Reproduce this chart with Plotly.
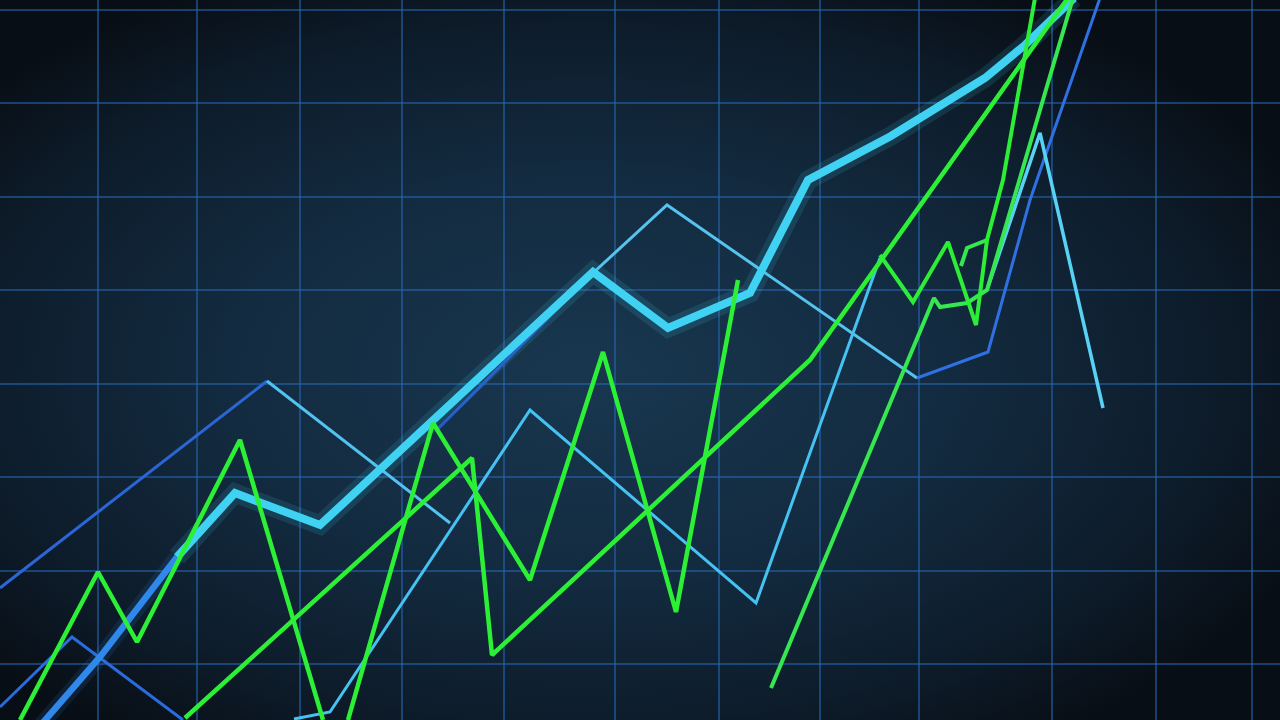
import base64
import plotly.graph_objects as go

# ---- grid (axis tick positions) ----
x_grid = [98, 197, 300, 402, 504, 615, 719, 820, 919, 1052, 1156, 1252]
y_grid = [56, 149, 243, 336, 430, 523, 617, 710]

# ---- series (x = time, y = value) ----
thick_low_x = [40, 100, 177]
thick_low_y = [-6, 63, 163]
thick_x = [177, 235, 320, 593, 668, 750, 808, 891, 985, 1025, 1074]
thick_y = [163, 227, 195, 448, 392, 427, 540, 584, 642, 675, 722]

a_left_x = [0, 267]
a_left_y = [132, 339]
a_right_x = [267, 450]
a_right_y = [339, 197]

b1_x = [437, 593]
b1_y = [290, 447]
b2_x = [593, 667, 917]
b2_y = [447, 515, 342]
b3_x = [917, 988, 1030, 1100]
b3_y = [342, 368, 520, 722]

c_x = [294, 330, 530, 756, 880]
c_y = [1, 8, 310, 117, 462]

d_x = [0, 72, 183]
d_y = [13, 83, 0]

e_x = [987, 1040, 1103]
e_y = [430, 587, 312]

g1_x = [20, 98, 137, 240, 323]
g1_y = [0, 148, 78, 280, 0]

g2_x = [185, 472, 492, 810, 1068]
g2_y = [2, 262, 65, 360, 722]

g3_x = [348, 433, 530, 603, 676, 738]
g3_y = [0, 297, 140, 368, 108, 440]

g4_x = [771, 934, 940, 967, 987, 1073]
g4_y = [32, 422, 413, 417, 430, 722]

g5_x = [880, 913, 948, 976, 987, 1003, 1035]
g5_y = [465, 418, 478, 395, 480, 540, 722]

g5b_x = [961, 967, 987]
g5b_y = [454, 472, 480]

# ---- background gradient ----
svg = """<svg xmlns='http://www.w3.org/2000/svg' width='1280' height='720' viewBox='0 0 1280 720' preserveAspectRatio='none'>
<defs><radialGradient id='g' cx='0.46' cy='0.52' r='0.62'>
<stop offset='0' stop-color='#18374f'/>
<stop offset='0.45' stop-color='#132b40'/>
<stop offset='0.8' stop-color='#0d1b29'/>
<stop offset='1' stop-color='#080e15'/>
</radialGradient></defs>
<rect width='1280' height='720' fill='url(#g)'/></svg>"""
bg_src = "data:image/svg+xml;base64," + base64.b64encode(svg.encode()).decode()

fig = go.Figure()


def add_line(x, y, color, width, glow=False):
    if glow:
        fig.add_trace(go.Scatter(x=x, y=y, mode="lines", hoverinfo="skip",
                                 line=dict(color=color, width=width * 2.4),
                                 opacity=0.13))
    fig.add_trace(go.Scatter(x=x, y=y, mode="lines", hoverinfo="skip",
                             line=dict(color=color, width=width)))


# blue / cyan thin lines
add_line(d_x, d_y, "#2a6cdc", 3)
add_line(a_left_x, a_left_y, "#2a66d6", 3)
add_line(a_right_x, a_right_y, "#52c2f0", 3)
add_line(b1_x, b1_y, "#2552c8", 3)
add_line(b2_x, b2_y, "#55c3ee", 3)
add_line(b3_x, b3_y, "#2f70e2", 3)
add_line(c_x, c_y, "#46c2f2", 3)
add_line(e_x, e_y, "#58d2f4", 3.5)

# thick main line
add_line(thick_low_x, thick_low_y, "#2f88ea", 6.5, glow=True)
add_line(thick_x, thick_y, "#3fd2f2", 8, glow=True)

# green lines
add_line(g4_x, g4_y, "#36e850", 4)
add_line(g5b_x, g5b_y, "#36e850", 4)
add_line(g5_x, g5_y, "#2cee36", 4)
add_line(g3_x, g3_y, "#2cf036", 4.5)
add_line(g2_x, g2_y, "#2cf036", 4.5)
add_line(g1_x, g1_y, "#2cf036", 4.5)

axis_common = dict(showticklabels=False, zeroline=False, showline=False,
                   ticks="", showgrid=True, gridcolor="rgba(38,104,180,0.55)",
                   gridwidth=2)

fig.update_layout(
    width=1280, height=720,
    margin=dict(l=0, r=0, t=0, b=0),
    paper_bgcolor="#0a121b",
    plot_bgcolor="rgba(0,0,0,0)",
    showlegend=False,
    xaxis=dict(range=[0, 1280], tickvals=x_grid, fixedrange=True, **axis_common),
    yaxis=dict(range=[0, 720], tickvals=y_grid, fixedrange=True, **axis_common),
    images=[dict(source=bg_src, xref="paper", yref="paper", x=0, y=1,
                 sizex=1, sizey=1, sizing="stretch", xanchor="left",
                 yanchor="top", layer="below")],
)

fig.write_html(
    "out.html",
    config={"displayModeBar": False},
    post_script="document.body.style.margin='0';document.body.style.padding='0';"
                "document.body.style.overflow='hidden';",
)
